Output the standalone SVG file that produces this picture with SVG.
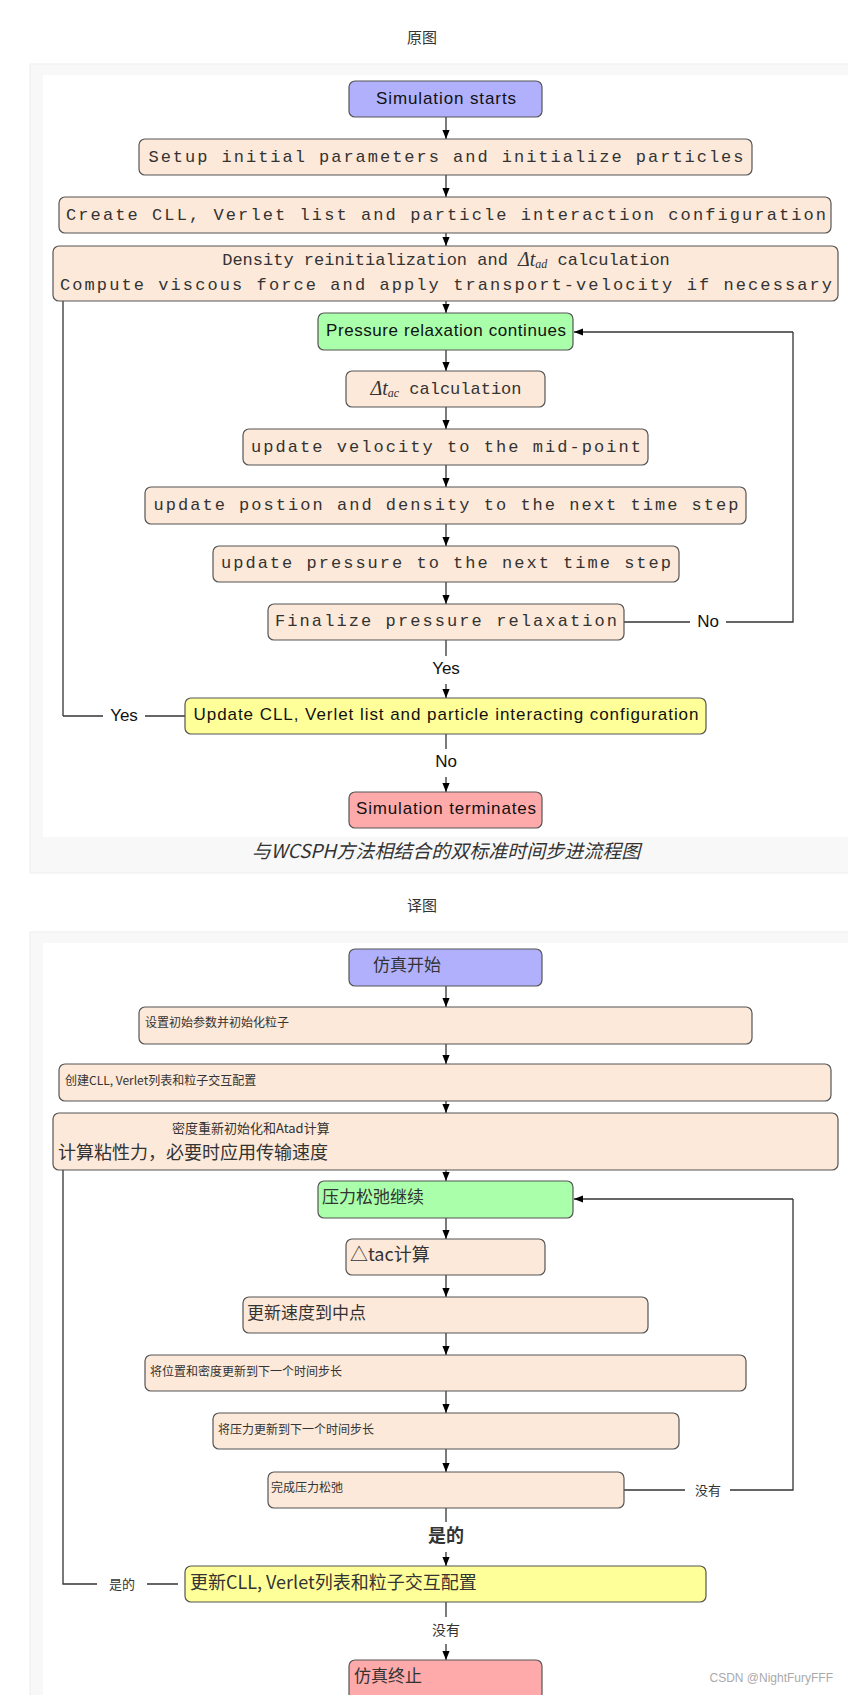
<svg xmlns="http://www.w3.org/2000/svg" width="848" height="1695" viewBox="0 0 848 1695">
<defs>
<marker id="ah" viewBox="0 0 10 10" refX="10" refY="5" markerWidth="7" markerHeight="7" orient="auto"><path d="M0,1 L10,5 L0,9 z" fill="#000"/></marker>
<style>
.b{fill:#fde9d9;stroke:#555;stroke-width:1.2}
.m{font-family:"Liberation Mono",monospace;font-size:17px;fill:#333;text-anchor:middle;dominant-baseline:middle}
.s{font-family:"Liberation Sans",sans-serif;font-size:17px;fill:#111;text-anchor:middle;dominant-baseline:middle}
.c{font-family:"Noto Sans CJK SC",sans-serif;fill:#333;dominant-baseline:middle}
.l{fill:none;stroke:#333;stroke-width:1.3}
</style>
</defs>
<rect width="848" height="1695" fill="#fff"/>
<text x="422" y="39" class="c" font-size="15" text-anchor="middle">原图</text>
<rect x="30" y="64" width="830" height="809" fill="#f8f8f8" stroke="#eee"/>
<rect x="43" y="75" width="817" height="762" fill="#fff"/>
<text x="446" y="853" class="c" font-size="19" font-style="italic" fill="#444" text-anchor="middle">与WCSPH方法相结合的双标准时间步进流程图</text>

<g id="connectors1">
<path class="l" marker-end="url(#ah)" d="M446,117V139"/>
<path class="l" marker-end="url(#ah)" d="M446,175V197"/>
<path class="l" marker-end="url(#ah)" d="M446,233V246"/>
<path class="l" marker-end="url(#ah)" d="M446,301V313"/>
<path class="l" marker-end="url(#ah)" d="M446,350V371"/>
<path class="l" marker-end="url(#ah)" d="M446,407V429"/>
<path class="l" marker-end="url(#ah)" d="M446,465V487"/>
<path class="l" marker-end="url(#ah)" d="M446,524V546"/>
<path class="l" marker-end="url(#ah)" d="M446,582V604"/>
<path class="l" d="M624,622H690M726,622H793V332"/>
<path class="l" marker-end="url(#ah)" d="M793,332H574"/>
<path class="l" d="M446,640V656"/>
<path class="l" marker-end="url(#ah)" d="M446,684V698"/>
<path class="l" d="M185,716H145M103,716H63"/>
<path class="l" marker-end="url(#ah)" d="M63,716V272"/>
<path class="l" d="M446,734V749"/>
<path class="l" marker-end="url(#ah)" d="M446,777V792"/>
<text x="708" y="623" class="s">No</text>
<text x="446" y="670" class="s">Yes</text>
<text x="124" y="717" class="s">Yes</text>
<text x="446" y="763" class="s">No</text>
</g>
<g id="n1"><rect x="349" y="81" width="193" height="36" rx="6" fill="#b0b0fc" stroke="#555" stroke-width="1.2"/><text x="446" y="100" class="s" textLength="140">Simulation starts</text></g>
<g id="n2"><rect class="b" x="139" y="139" width="613" height="36" rx="6"/><text x="446" y="158" class="m" textLength="595">Setup initial parameters and initialize particles</text></g>
<g id="n3"><rect class="b" x="59" y="197" width="772" height="36" rx="6"/><text x="446" y="216" class="m" textLength="760">Create CLL, Verlet list and particle interaction configuration</text></g>
<g id="n4"><rect class="b" x="53" y="246" width="785" height="55" rx="6"/><text x="446" y="261" class="m">Density reinitialization and <tspan font-family="Liberation Serif" font-style="italic" font-size="20">Δt</tspan><tspan font-family="Liberation Serif" font-style="italic" font-size="12" dy="4">ad</tspan><tspan dy="-4"> calculation</tspan></text><text x="446" y="286" class="m" textLength="772">Compute viscous force and apply transport-velocity if necessary</text></g>
<g id="n5"><rect x="318" y="313" width="255" height="37" rx="6" fill="#aaffaa" stroke="#555" stroke-width="1.2"/><text x="446" y="332" class="s" textLength="240">Pressure relaxation continues</text></g>
<g id="n6"><rect class="b" x="346" y="371" width="199" height="36" rx="6"/><text x="446" y="390" class="m"><tspan font-family="Liberation Serif" font-style="italic" font-size="20">Δt</tspan><tspan font-family="Liberation Serif" font-style="italic" font-size="12" dy="4">ac</tspan><tspan dy="-4"> calculation</tspan></text></g>
<g id="n7"><rect class="b" x="243" y="429" width="405" height="36" rx="6"/><text x="446" y="448" class="m" textLength="390">update velocity to the mid-point</text></g>
<g id="n8"><rect class="b" x="145" y="487" width="601" height="37" rx="6"/><text x="446" y="506" class="m" textLength="585">update postion and density to the next time step</text></g>
<g id="n9"><rect class="b" x="213" y="546" width="466" height="36" rx="6"/><text x="446" y="564" class="m" textLength="450">update pressure to the next time step</text></g>
<g id="n10"><rect class="b" x="268" y="604" width="356" height="36" rx="6"/><text x="446" y="622" class="m" textLength="342">Finalize pressure relaxation</text></g>
<g id="n11"><rect x="185" y="698" width="521" height="36" rx="6" fill="#ffff99" stroke="#555" stroke-width="1.2"/><text x="446" y="716" class="s" textLength="505">Update CLL, Verlet list and particle interacting configuration</text></g>
<g id="n12"><rect x="349" y="792" width="193" height="36" rx="6" fill="#ffaaaa" stroke="#555" stroke-width="1.2"/><text x="446" y="810" class="s" textLength="180">Simulation terminates</text></g>

<text x="422" y="907" class="c" font-size="15" text-anchor="middle">译图</text>
<rect x="30" y="932" width="830" height="770" fill="#f8f8f8" stroke="#eee"/>
<rect x="43" y="943" width="817" height="760" fill="#fff"/>
<g id="connectors2">
<path class="l" marker-end="url(#ah)" d="M446,986V1007"/>
<path class="l" marker-end="url(#ah)" d="M446,1044V1064"/>
<path class="l" marker-end="url(#ah)" d="M446,1101V1113"/>
<path class="l" marker-end="url(#ah)" d="M446,1170V1181"/>
<path class="l" marker-end="url(#ah)" d="M446,1218V1239"/>
<path class="l" marker-end="url(#ah)" d="M446,1275V1297"/>
<path class="l" marker-end="url(#ah)" d="M446,1333V1355"/>
<path class="l" marker-end="url(#ah)" d="M446,1391V1413"/>
<path class="l" marker-end="url(#ah)" d="M446,1449V1472"/>
<path class="l" d="M624,1490H685M730,1490H793V1199"/>
<path class="l" marker-end="url(#ah)" d="M793,1199H574"/>
<path class="l" d="M446,1508V1522"/>
<path class="l" marker-end="url(#ah)" d="M446,1552V1566"/>
<path class="l" d="M178,1584H147M97,1584H63V1170"/>
<path class="l" d="M446,1602V1617"/>
<path class="l" marker-end="url(#ah)" d="M446,1644V1660"/>
<text x="708" y="1491" class="c" font-size="13" text-anchor="middle">没有</text>
<text x="446" y="1537" class="c" font-size="18" font-weight="bold" fill="#111" text-anchor="middle">是的</text>
<text x="122" y="1585" class="c" font-size="13" text-anchor="middle">是的</text>
<text x="446" y="1631" class="c" font-size="14" text-anchor="middle">没有</text>
</g>
<g id="t1"><rect x="349" y="949" width="193" height="37" rx="6" fill="#b0b0fc" stroke="#555" stroke-width="1.2"/><text x="373" y="966" class="c" font-size="17">仿真开始</text></g>
<g id="t2"><rect class="b" x="139" y="1007" width="613" height="37" rx="6"/><text x="145" y="1024" class="c" font-size="12">设置初始参数并初始化粒子</text></g>
<g id="t3"><rect class="b" x="59" y="1064" width="772" height="37" rx="6"/><text x="65" y="1082" class="c" font-size="12">创建CLL, Verlet列表和粒子交互配置</text></g>
<g id="t4"><rect class="b" x="53" y="1113" width="785" height="57" rx="6"/><text x="172" y="1129" class="c" font-size="13">密度重新初始化和Atad计算</text><text x="58" y="1154" class="c" font-size="18">计算粘性力，必要时应用传输速度</text></g>
<g id="t5"><rect x="318" y="1181" width="255" height="37" rx="6" fill="#aaffaa" stroke="#555" stroke-width="1.2"/><text x="322" y="1198" class="c" font-size="17" fill="#2a5a2a">压力松弛继续</text></g>
<g id="t6"><rect class="b" x="346" y="1239" width="199" height="36" rx="6"/><text x="350" y="1256" class="c" font-size="18">△tac计算</text></g>
<g id="t7"><rect class="b" x="243" y="1297" width="405" height="36" rx="6"/><text x="247" y="1314" class="c" font-size="17">更新速度到中点</text></g>
<g id="t8"><rect class="b" x="145" y="1355" width="601" height="36" rx="6"/><text x="150" y="1373" class="c" font-size="12">将位置和密度更新到下一个时间步长</text></g>
<g id="t9"><rect class="b" x="213" y="1413" width="466" height="36" rx="6"/><text x="218" y="1431" class="c" font-size="12">将压力更新到下一个时间步长</text></g>
<g id="t10"><rect class="b" x="268" y="1472" width="356" height="36" rx="6"/><text x="271" y="1489" class="c" font-size="12">完成压力松弛</text></g>
<g id="t11"><rect x="185" y="1566" width="521" height="36" rx="6" fill="#ffff99" stroke="#555" stroke-width="1.2"/><text x="190" y="1584" class="c" font-size="18" fill="#5a5a20">更新CLL, Verlet列表和粒子交互配置</text></g>
<g id="t12"><rect x="349" y="1660" width="193" height="40" rx="6" fill="#ffaaaa" stroke="#555" stroke-width="1.2"/><text x="354" y="1677" class="c" font-size="17">仿真终止</text></g>
<text x="833" y="1679" font-family="Liberation Sans,sans-serif" font-size="12" fill="#aaa" text-anchor="end" dominant-baseline="middle">CSDN @NightFuryFFF</text>
</svg>
